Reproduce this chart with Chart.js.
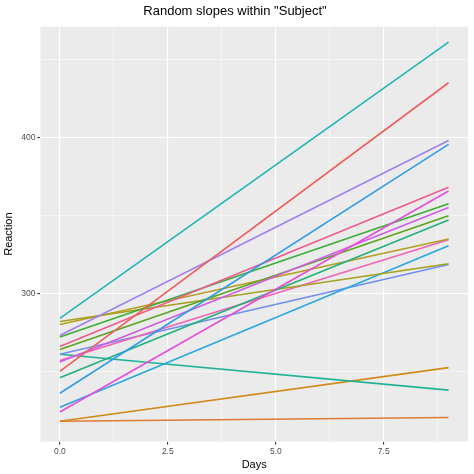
<!DOCTYPE html>
<html>
<head>
<script src="https://cdn.jsdelivr.net/npm/chart.js@4.4.1/dist/chart.umd.min.js"></script>
<style>
html, body { margin: 0; padding: 0; background: #fff; }
#wrap { width: 474px; height: 474px; }
</style>
</head>
<body>
<div id="wrap"><canvas id="chart"></canvas></div>
<script>
const days = [0, 9]
const startValues = [284, 250, 273, 236, 266, 224, 272, 256, 264, 246, 282, 280, 257, 227, 261, 261, 218, 218]
const endValues = [461, 435, 398, 395.5, 368, 365.6, 357.5, 355, 349.7, 347, 319, 334.8, 334.4, 330.6, 318.5, 238, 252.4, 220.4]
const lineColors = ['#1fb5b8', '#ee5f5a', '#a27ff5', '#2e9ce8', '#ef5b8c', '#e54fd9', '#3aae35', '#d25ce8', '#58a51d', '#22b07a',
    '#a5a01e', '#b59d1f', '#f262b5', '#2aa8de', '#6f8ff0', '#1fb396', '#d18a18', '#e07a35']
const xTicks = [0, 2.5, 5, 7.5]
const yTicks = [300, 400]

const datasets = startValues.map((s, i) => ({
    data: [{ x: days[0], y: s }, { x: days[1], y: endValues[i] }],
    borderColor: lineColors[i],
    borderWidth: 1.6,
    pointRadius: 0,
    fill: false,
}))

const panelBg = {
    id: 'panelBg',
    beforeDraw(chart) {
        const { ctx, chartArea: a } = chart
        ctx.save()
        ctx.fillStyle = '#ebebeb'
        ctx.fillRect(a.left, a.top, a.right - a.left, a.bottom - a.top)
        ctx.restore()
    }
}

const isMajor = (v, list) => list.some(t => Math.abs(t - v) < 1e-6)

new Chart(document.getElementById('chart'), {
    type: 'line',
    data: { datasets },
    plugins: [panelBg],
    options: {
        responsive: true,
        maintainAspectRatio: false,
        animation: false,
        layout: { padding: { top: 0, right: 6, left: 2, bottom: 2 } },
        plugins: {
            legend: { display: false },
            tooltip: { enabled: false },
            title: {
                display: true,
                text: 'Random slopes within "Subject"',
                color: '#000',
                font: { family: 'Liberation Sans', size: 13, weight: 'normal' },
                padding: { top: 4, bottom: 7 },
            },
        },
        scales: {
            x: {
                type: 'linear',
                min: -0.45, max: 9.45,
                afterBuildTicks(s) { s.ticks = [-0.45, 0, 1.25, 2.5, 3.75, 5, 6.25, 7.5, 8.75].map(v => ({ value: v })) },
                ticks: {
                    color: '#4d4d4d', font: { family: 'Liberation Sans', size: 8.5 }, padding: 2,
                    callback: v => isMajor(v, xTicks) ? v.toFixed(1) : '',
                },
                grid: {
                    color: c => c.tick && c.tick.value === -0.45 ? 'rgba(0,0,0,0)' : '#fff',
                    lineWidth: c => c.tick && isMajor(c.tick.value, xTicks) ? 1.1 : 0.5,
                    tickColor: c => c.tick && isMajor(c.tick.value, xTicks) ? '#333' : 'rgba(0,0,0,0)',
                    tickLength: 3,
                },
                border: { display: false },
                title: { display: true, text: 'Days', color: '#000', font: { family: 'Liberation Sans', size: 11 }, padding: { top: 0, bottom: 0 } },
            },
            y: {
                min: 205, max: 471,
                afterBuildTicks(s) { s.ticks = [250, 300, 350, 400, 450].map(v => ({ value: v })) },
                ticks: {
                    color: '#4d4d4d', font: { family: 'Liberation Sans', size: 8.5 }, padding: 2,
                    callback: v => isMajor(v, yTicks) ? String(v) : '',
                },
                grid: {
                    color: '#fff',
                    lineWidth: c => c.tick && isMajor(c.tick.value, yTicks) ? 1.1 : 0.5,
                    tickColor: c => c.tick && isMajor(c.tick.value, yTicks) ? '#333' : 'rgba(0,0,0,0)',
                    tickLength: 3,
                },
                border: { display: false },
                title: { display: true, text: 'Reaction', color: '#000', font: { family: 'Liberation Sans', size: 11 }, padding: { top: 0, bottom: 4 } },
            },
        },
    },
})
</script>
</body>
</html>
